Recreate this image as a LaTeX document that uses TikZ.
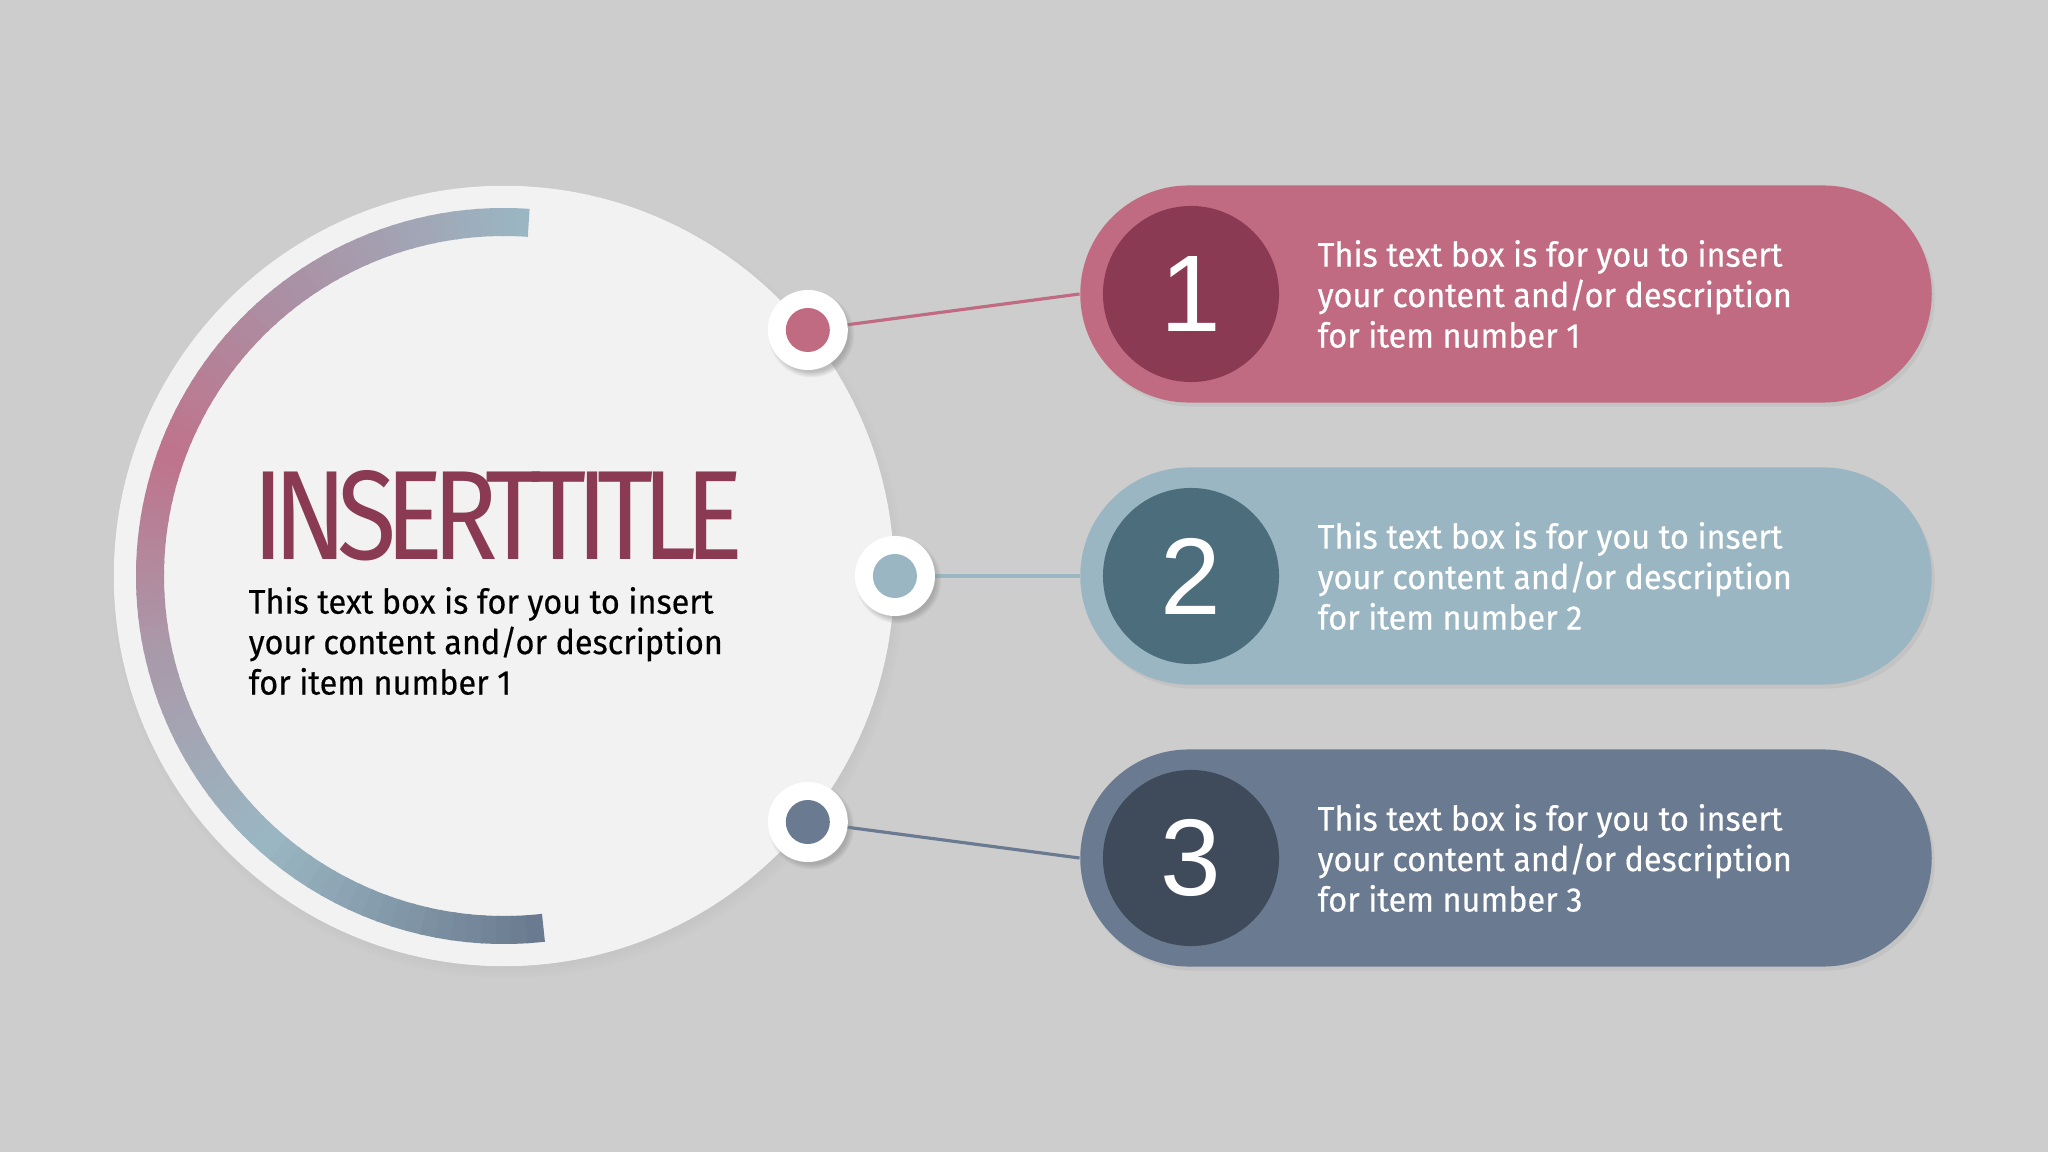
\documentclass[tikz,border=0pt]{standalone}
\usepackage{fontspec}
\usepackage{xcolor}
\usepackage{tikz}
\setmainfont{Fira Sans}[FakeStretch=0.95,FakeBold=0.4]
\newfontfamily\titlefont{Fira Sans}[LetterSpace=-10]
\newfontfamily\numfont{Liberation Sans}
\usetikzlibrary{shapes.misc,shadows}

\definecolor{bggrey}{RGB}{205,205,205}
\definecolor{discwhite}{RGB}{242,242,242}
\definecolor{roselight}{RGB}{192,107,130}
\definecolor{rosedark}{RGB}{138,58,82}
\definecolor{skylight}{RGB}{154,182,194}
\definecolor{skydark}{RGB}{76,110,124}
\definecolor{slatelight}{RGB}{106,122,144}
\definecolor{slatedark}{RGB}{63,74,90}
\definecolor{arcmauve}{RGB}{170,146,166}
\definecolor{arcpink}{RGB}{190,116,140}
\definecolor{arcgrey}{RGB}{168,156,172}

\begin{document}
\begin{tikzpicture}[x=0.01cm, y=0.01cm,
	pill/.style={rounded rectangle, minimum width=8.51cm, minimum height=2.17cm,
		drop shadow={shadow xshift=0.03cm, shadow yshift=-0.04cm, opacity=0.12}},
	numdisc/.style={circle, minimum size=1.76cm, text=white,
		font=\numfont\fontsize{31}{31}\selectfont},
	ring/.style={circle, fill=white, minimum size=0.80cm,
		circular drop shadow={shadow xshift=0.03cm, shadow yshift=-0.04cm, shadow scale=1.08, opacity=0.45}},
	dot/.style={circle, minimum size=0.44cm},
	blurb/.style={align=left, font=\fontsize{9.7}{11.5}\selectfont},
	link/.style={line width=0.9pt}]
	\tikzstyle{every node}+=[inner sep=0pt]
	\useasboundingbox (0,0) rectangle (2048,-1152);
	\fill [bggrey] (0,0) rectangle (2048,-1152);
	\node [circle, fill=discwhite, minimum size=7.8cm,
		circular drop shadow={shadow xshift=0.04cm, shadow yshift=-0.06cm, shadow scale=1.015, opacity=0.4}] (disc) at (504,-576) {};
	\foreach \a/\b/\ca/\cb in {86/125/skylight/arcmauve, 125/160/arcmauve/arcpink,
		160/195/arcpink/arcgrey, 195/228/arcgrey/skylight, 228/276/skylight/slatelight}
		\foreach \i in {0,...,19} {
			\pgfmathsetmacro\s{\a+(\b-\a)*\i/20}
			\pgfmathsetmacro\e{\a+(\b-\a)*(\i+1)/20+0.4}
			\pgfmathtruncatemacro\p{100*\i/19}
			\draw [line width=0.28cm, color=\cb!\p!\ca] (disc.center) ++(\s:354) arc (\s:\e:354);
		}
	\node [anchor=south west, text=rosedark] (title) at (252,-562)
		{\resizebox{4.91cm}{0.89cm}{\titlefont INSERTTITLE}};
	\node [blurb, anchor=west, text=black] (intro) at (248,-641)
		{This text box is for you to insert\\your content and/or description\\for item number 1};
	\node [pill, fill=roselight] (p1) at (1506,-294) {};
	\node [pill, fill=skylight] (p2) at (1506,-576) {};
	\node [pill, fill=slatelight] (p3) at (1506,-858) {};
	\node [numdisc, fill=rosedark] (n1) at (1191,-294) {1};
	\node [numdisc, fill=skydark] (n2) at (1191,-576) {2};
	\node [numdisc, fill=slatedark] (n3) at (1191,-858) {3};
	\node [blurb, anchor=west, text=white] (t1) at (1317,-294)
		{This text box is for you to insert\\your content and/or description\\for item number 1};
	\node [blurb, anchor=west, text=white] (t2) at (1317,-576)
		{This text box is for you to insert\\your content and/or description\\for item number 2};
	\node [blurb, anchor=west, text=white] (t3) at (1317,-858)
		{This text box is for you to insert\\your content and/or description\\for item number 3};
	\coordinate (d1) at (disc.39.4);
	\coordinate (d2) at (disc.east);
	\coordinate (d3) at (disc.-39.4);
	\draw [link, roselight] (d1) -- (p1.west);
	\draw [link, skylight] (d2) -- (p2.west);
	\draw [link, slatelight] (d3) -- (p3.west);
	\node [ring] (r1) at (d1) {};
	\node [ring] (r2) at (d2) {};
	\node [ring] (r3) at (d3) {};
	\node [dot, fill=roselight] (k1) at (r1) {};
	\node [dot, fill=skylight] (k2) at (r2) {};
	\node [dot, fill=slatelight] (k3) at (r3) {};
\end{tikzpicture}
\end{document}
